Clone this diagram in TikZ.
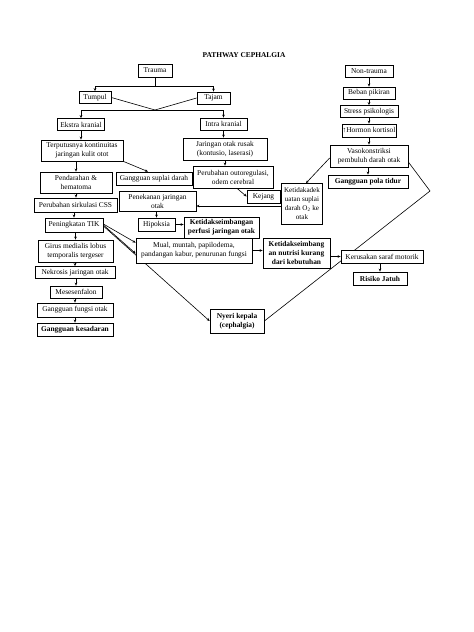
\documentclass[tikz,border=0pt]{standalone}
\usepackage{fontspec}
\setmainfont{Liberation Serif}
\usetikzlibrary{arrows.meta,backgrounds}
\begin{document}
\begin{tikzpicture}[x=1pt,y=-1pt,
  box/.style={draw, line width=0.75pt, fill=white, inner sep=0.3pt, align=center,
    font=\fontsize{7.4}{9}\selectfont},
  bbox/.style={box, font=\fontsize{7.4}{9}\selectfont\bfseries},
  arr/.style={-{Stealth[length=3pt,width=2.6pt]}, line width=0.6pt},
  ln/.style={line width=0.6pt}]
\useasboundingbox (0,0) rectangle (474,632);

\node[font=\fontsize{7.4}{8}\selectfont\bfseries] (title) at (244,55) {PATHWAY CEPHALGIA};

% trauma branch
\node[box, minimum width=34, minimum height=13] (trauma) at (155,70.5) {Trauma};
\node[box, minimum width=32, minimum height=12] (tumpul) at (95,97.5) {Tumpul};
\node[box, minimum width=33, minimum height=12] (tajam) at (213.5,98) {Tajam};
\node[box, minimum width=47, minimum height=12] (ekstra) at (81,124.5) {Ekstra kranial};
\node[box, minimum width=47, minimum height=12] (intra) at (223.5,124) {Intra kranial};
\node[box, minimum width=82, minimum height=21] (terput) at (82,150.5) {Terputusnya kontinuitas\\jaringan kulit otot};
\node[box, minimum width=84, minimum height=22] (jaring) at (225,149) {Jaringan otak rusak\\(kontusio, laserasi)};
\node[box, minimum width=80, minimum height=22] (perubO) at (233,177) {Perubahan outoregulasi,\\odem cerebral};
\node[box, minimum width=33, minimum height=13] (kejang) at (263.5,196.5) {Kejang};
\node[box, minimum width=41, minimum height=41, font=\fontsize{7.1}{9}\selectfont] (ketO2) at (302,204) {Ketidakadek\\uatan suplai\\darah O\textsubscript{2} ke\\otak};
\node[box, minimum width=76, minimum height=13] (suplai) at (154,178.5) {Gangguan suplai darah};
\node[box, minimum width=77, minimum height=20] (penek) at (157.5,201) {Penekanan jaringan\\otak};
\node[box, minimum width=37, minimum height=13] (hipok) at (156.5,224.5) {Hipoksia};
\node[bbox, minimum width=75, minimum height=21] (perfusi) at (221.5,227.5) {Ketidakseimbangan\\perfusi jaringan otak};
\node[box, minimum width=116, minimum height=25] (mual) at (194,250.5) {Mual, muntah, papilodema,\\pandangan kabur, penurunan fungsi};
\node[bbox, minimum width=67, minimum height=30] (nutrisi) at (296.5,253) {Ketidakseimbang\\an nutrisi kurang\\dari kebutuhan};
\node[box, minimum width=82, minimum height=13] (rusak) at (382,256.5) {Kerusakan saraf motorik};
\node[bbox, minimum width=54, minimum height=13] (risiko) at (380,278.5) {Risiko Jatuh};
\node[bbox, minimum width=54, minimum height=24] (nyeri) at (237,321) {Nyeri kepala\\(cephalgia)};

% left column
\node[box, minimum width=72, minimum height=21] (pend) at (76,182.5) {Pendarahan \&\\hematoma};
\node[box, minimum width=83, minimum height=14] (css) at (75.5,205) {Perubahan sirkulasi CSS};
\node[box, minimum width=58, minimum height=14] (tik) at (74,225) {Peningkatan TIK};
\node[box, minimum width=75, minimum height=22] (girus) at (75.5,251) {Girus medialis lobus\\temporalis tergeser};
\node[box, minimum width=80, minimum height=12] (nekro) at (75,272.5) {Nekrosis jaringan otak};
\node[box, minimum width=52, minimum height=12] (meses) at (76,292) {Mesesenfalon};
\node[box, minimum width=76, minimum height=14] (fungsi) at (75,310) {Gangguan fungsi otak};
\node[bbox, minimum width=76, minimum height=13] (sadar) at (75,329.5) {Gangguan kesadaran};

% non-trauma column
\node[box, minimum width=48, minimum height=12] (nontr) at (369,71) {Non-trauma};
\node[box, minimum width=52, minimum height=12] (beban) at (369,93) {Beban pikiran};
\node[box, minimum width=58, minimum height=12] (stress) at (369,111.5) {Stress psikologis};
\node[box, minimum width=54, minimum height=13] (hormon) at (369,130.5) {↑Hormon kortisol};
\node[box, minimum width=78, minimum height=22] (vaso) at (369,156) {Vasokonstriksi\\pembuluh darah otak};
\node[bbox, minimum width=80, minimum height=13] (pola) at (368,181.5) {Gangguan pola tidur};

\coordinate (t1) at (155,86);
\coordinate (j1) at (155,110);
\coordinate (bend) at (430,191);

\begin{scope}[on background layer]
  \draw[ln] (trauma.south) -- (t1);
  \draw[arr] (t1) -| (tumpul.north);
  \draw[arr] (t1) -| (tajam.north);
  \draw[ln] (tumpul.east) -- (j1) -- (tajam.west);
  \draw[arr] (j1) -| (ekstra.north);
  \draw[arr] (j1) -| (intra.north);
  \draw[arr] (ekstra.south) -- (ekstra.south |- terput.north);
  \draw[arr] (terput.south -| pend.north) -- (pend.north);
  \draw[arr] (pend.south) -- (pend.south |- css.north);
  \draw[arr] (css.south -| tik.north) -- (tik.north);
  \draw[arr] (tik.south -| girus.north) -- (girus.north);
  \draw[arr] (girus.south -| nekro.north) -- (nekro.north);
  \draw[arr] (nekro.south -| meses.north) -- (meses.north);
  \draw[arr] (meses.south -| fungsi.north) -- (fungsi.north);
  \draw[arr] (fungsi.south) -- (sadar.north);

  \draw[arr] (intra.south) -- (intra.south |- jaring.north);
  \draw[arr] (jaring.south) -- (jaring.south |- perubO.north);
  \draw[arr] ([xshift=4pt]perubO.south) -- (kejang.west);
  \draw[arr] (ketO2.west |- 0,206) -- (penek.east |- 0,206);
  \draw[arr] (terput.south east) -- ([xshift=-6pt]suplai.north);
  \draw[arr] (hipok.north |- penek.south) -- (hipok.north);
  \draw[arr] (hipok.east) -- (perfusi.west |- hipok.east);

  \draw[arr] ([yshift=1pt]tik.east) -- ([yshift=-5pt]mual.north west);
  \draw[arr] (tik.east) -- ([yshift=-3pt]mual.west);
  \draw[arr] ([yshift=-1pt]tik.east) -- (nyeri.west);
  \draw[arr] (mual.east) -- (nutrisi.west |- mual.east);
  \draw[arr] (nutrisi.east |- rusak.west) -- (rusak.west);
  \draw[arr] (risiko.north |- rusak.south) -- (risiko.north);

  \draw[arr] (nontr.south) -- (beban.north);
  \draw[arr] (beban.south) -- (stress.north);
  \draw[arr] (stress.south) -- (hormon.north);
  \draw[arr] (hormon.south) -- (vaso.north);
  \draw[arr] (vaso.south -| pola.north) -- (pola.north);
  \draw[arr] ([yshift=-2pt]vaso.west) -- ([xshift=4pt]ketO2.north);
  \draw[ln] ([yshift=-6pt]vaso.east) -- (bend) -- (nyeri.east);
\end{scope}
\end{tikzpicture}
\end{document}
